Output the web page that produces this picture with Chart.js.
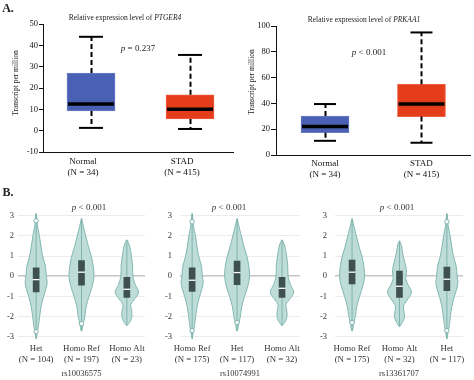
<!DOCTYPE html>
<html><head><meta charset="utf-8">
<script src="https://cdn.jsdelivr.net/npm/chart.js@4.4.0/dist/chart.umd.min.js"></script>
<style>
html,body{margin:0;padding:0;background:#fff;}
#wrap{position:relative;width:474px;height:380px;overflow:hidden;font-family:"Liberation Serif","Times New Roman",serif;color:#222;}
canvas{position:absolute;}
.t{position:absolute;white-space:nowrap;transform:translate(-50%,-50%);line-height:1;}
.r{transform:translate(-50%,-50%) rotate(-90deg);}
</style></head><body><div id="wrap">
<canvas id="cA1" width="240" height="180" style="left:0;top:0"></canvas>
<canvas id="cA2" width="237" height="180" style="left:237px;top:0"></canvas>
<canvas id="cB1" width="158" height="184" style="left:0;top:196px"></canvas>
<canvas id="cB2" width="154" height="184" style="left:158px;top:196px"></canvas>
<canvas id="cB3" width="162" height="184" style="left:312px;top:196px"></canvas>
<div class="t" style="left:8px;top:8px;font-weight:bold;font-size:12px;">A.</div>
<div class="t" style="left:8px;top:192px;font-weight:bold;font-size:12px;">B.</div>
<div class="t" style="left:125px;top:18px;font-size:7.5px;">Relative expression level of <i>PTGER4</i></div>
<div class="t" style="left:364px;top:20px;font-size:7.5px;">Relative expression level of <i>PRKAA1</i></div>
<div class="t r" style="left:16px;top:83px;font-size:7.5px;">Transcript per million</div>
<div class="t r" style="left:252px;top:82px;font-size:7.5px;">Transcript per million</div>
<div class="t" style="left:138px;top:48px;font-size:9px;"><i>p</i> = 0.237</div>
<div class="t" style="left:369px;top:52px;font-size:9px;"><i>p</i> &lt; 0.001</div>
<div class="t" style="left:89px;top:207px;font-size:9px;color:#333"><i>p</i> &lt; 0.001</div>
<div class="t" style="left:229px;top:207px;font-size:9px;color:#333"><i>p</i> &lt; 0.001</div>
<div class="t" style="left:397px;top:207px;font-size:9px;color:#333"><i>p</i> &lt; 0.001</div>
</div>
<script>
const SERIF = '"Liberation Serif","Times New Roman",serif';

// ---------- Panel A data ----------
const aGroups = [['Normal', '(N = 34)'], ['STAD', '(N = 415)']];
const a1Q1 = [9.2, 5.5];
const a1Q3 = [27, 16.8];
const a1Median = [12.5, 10];
const a1WhiskerLow = [1.3, 0.8];
const a1WhiskerHigh = [44, 35.5];
const a1Ticks = [-10, 0, 10, 20, 30, 40, 50];

const a2Q1 = [17.3, 29.8];
const a2Q3 = [30.2, 54.8];
const a2Median = [22, 39.5];
const a2WhiskerLow = [11, 9.5];
const a2WhiskerHigh = [39.5, 95];
const a2Ticks = [0, 20, 40, 60, 80, 100];

// ---------- Panel B data ----------
// violin shapes: [value, relative density]
const shapeWide = [[3.1,0.02],[2.75,0.07],[2.5,0.11],[2,0.26],[1.5,0.38],[1,0.52],[0.5,0.74],[0,0.82],[-0.3,0.88],[-0.6,0.8],[-1,0.6],[-1.5,0.4],[-2,0.28],[-2.5,0.18],[-2.75,0.1],[-3.1,0.02]];
const shapeRef = [[2.85,0.02],[2.5,0.14],[2,0.34],[1.5,0.54],[1,0.78],[0.5,0.94],[0,1.0],[-0.5,0.86],[-1,0.6],[-1.5,0.38],[-2,0.26],[-2.35,0.14],[-2.5,0.1],[-2.72,0.02]];
const shapeAlt = [[1.8,0.02],[1.5,0.22],[1,0.36],[0.5,0.46],[0,0.48],[-0.4,0.66],[-0.8,0.94],[-1.1,0.66],[-1.4,0.32],[-1.7,0.38],[-2,0.4],[-2.25,0.26],[-2.45,0.02]];
const shapeAlt3 = [[1.75,0.02],[1.5,0.16],[1,0.3],[0.5,0.5],[0.2,0.56],[-0.1,0.5],[-0.4,0.66],[-0.8,0.96],[-1.2,0.6],[-1.5,0.32],[-2,0.4],[-2.3,0.22],[-2.5,0.02]];
const bTicks = [-3, -2, -1, 0, 1, 2, 3];

const b1Groups = [['Het', '(N = 104)'], ['Homo Ref', '(N = 197)'], ['Homo Alt', '(N = 23)']];
const b1Shapes = [shapeWide, shapeRef, shapeAlt];
const b1Q1 = [-0.78, -0.45, -1.05];
const b1Q3 = [0.42, 0.77, -0.05];
const b1Median = [-0.17, 0.2, -0.65];
const b1Outliers = [[2.75, -2.75], [-2.35], []];

const b2Groups = [['Homo Ref', '(N = 175)'], ['Het', '(N = 117)'], ['Homo Alt', '(N = 32)']];
const b2Shapes = [shapeWide, shapeRef, shapeAlt];
const b2Q1 = [-0.75, -0.42, -1.05];
const b2Q3 = [0.42, 0.75, -0.05];
const b2Median = [-0.2, 0.18, -0.6];
const b2Outliers = [[2.7, -2.7], [-2.3], []];

const b3Groups = [['Homo Ref', '(N = 175)'], ['Homo Alt', '(N = 32)'], ['Het', '(N = 117)']];
const b3Shapes = [shapeRef, shapeAlt3, shapeWide];
const b3Q1 = [-0.38, -1.05, -0.72];
const b3Q3 = [0.8, 0.25, 0.45];
const b3Median = [0.2, -0.5, -0.15];
const b3Outliers = [[-2.3], [], [2.7, -2.7]];

function seg(ctx, x1, y1, x2, y2) { ctx.beginPath(); ctx.moveTo(x1, y1); ctx.lineTo(x2, y2); ctx.stroke(); }

function boxChart(id, o) {
  const pos = o.groups.map((_, i) => i + 1);
  const plugin = {
    id: 'boxExtras' + id,
    afterDatasetsDraw(chart) {
      const { ctx, scales: { x, y } } = chart;
      ctx.save();
      pos.forEach((p, i) => {
        const cx = Math.round(x.getPixelForValue(p)) + 0.5;
        const bx1 = x.getPixelForValue(p - o.barUnits / 2), bx2 = x.getPixelForValue(p + o.barUnits / 2);
        ctx.strokeStyle = '#000';
        ctx.lineWidth = 2;
        ctx.setLineDash([5, 3]);
        seg(ctx, cx, y.getPixelForValue(o.q3[i]), cx, y.getPixelForValue(o.hi[i]));
        seg(ctx, cx, y.getPixelForValue(o.q1[i]), cx, y.getPixelForValue(o.lo[i]));
        ctx.setLineDash([]);
        const capL = x.getPixelForValue(p - o.capUnits / 2), capR = x.getPixelForValue(p + o.capUnits / 2);
        seg(ctx, capL, y.getPixelForValue(o.hi[i]), capR, y.getPixelForValue(o.hi[i]));
        seg(ctx, capL, y.getPixelForValue(o.lo[i]), capR, y.getPixelForValue(o.lo[i]));
        ctx.lineWidth = 3.5;
        seg(ctx, bx1 + 1, y.getPixelForValue(o.med[i]), bx2 - 1, y.getPixelForValue(o.med[i]));
      });
      ctx.restore();
    }
  };
  new Chart(document.getElementById(id), {
    type: 'bar',
    data: { datasets: [{
      data: pos.map((p, i) => ({ x: p, y: [o.q1[i], o.q3[i]] })),
      backgroundColor: ['#4a60b5', '#e53d1c'],
      borderColor: ['#6a7cc6', '#ec5e40'],
      borderWidth: 1, borderSkipped: false,
      barPercentage: 1, categoryPercentage: 1,
      barThickness: o.barPx
    }] },
    options: {
      responsive: false, animation: false, events: [],
      layout: { padding: { top: o.padTop, right: o.padRight, bottom: 0, left: 0 } },
      plugins: { legend: { display: false }, tooltip: { enabled: false } },
      scales: {
        x: {
          type: 'linear', min: o.xMin, max: o.xMax, offset: false,
          afterBuildTicks: s => { s.ticks = pos.map(v => ({ value: v })); },
          afterFit: s => { s.height = o.xH; },
          grid: { display: false, drawTicks: false, offset: false },
          border: { display: true, color: '#111', width: 1 },
          ticks: { padding: o.xPad, labelOffset: o.labelOffset, autoSkip: false, maxRotation: 0,
            font: { family: SERIF, size: 9, lineHeight: 1.2 }, color: '#111',
            callback: (v, i) => o.groups[i] }
        },
        y: {
          min: o.yMin, max: o.yMax,
          afterBuildTicks: s => { s.ticks = o.yTicks.map(v => ({ value: v })); },
          afterFit: s => { s.width = o.yW; },
          grid: { display: true, drawOnChartArea: false, drawTicks: true, tickLength: o.tickLen, color: '#111' },
          border: { display: true, color: '#111', width: 1 },
          ticks: { padding: 1, font: { family: SERIF, size: 8.5 }, color: '#111' }
        }
      }
    },
    plugins: [plugin]
  });
}

boxChart('cA1', { groups: aGroups, q1: a1Q1, q3: a1Q3, med: a1Median, lo: a1WhiskerLow, hi: a1WhiskerHigh,
  yTicks: a1Ticks, yMin: -10, yMax: 50, xMin: 0.515, xMax: 2.434, barPx: 48, barUnits: 48 / 99, capUnits: 24 / 99,
  padTop: 24, padRight: 7, xH: 28, yW: 43, xPad: 4.6, labelOffset: -8, tickLen: 4 });
boxChart('cA2', { groups: aGroups, q1: a2Q1, q3: a2Q3, med: a2Median, lo: a2WhiskerLow, hi: a2WhiskerHigh,
  yTicks: a2Ticks, yMin: 0, yMax: 100, xMin: 0.492, xMax: 2.503, barPx: 48, barUnits: 48 / 96.5, capUnits: 22 / 96.5,
  padTop: 26, padRight: 4, xH: 25, yW: 39, xPad: 3.6, labelOffset: 0, tickLen: 5 });

function smoothThrough(ctx, pts, move) {
  if (move) ctx.moveTo(pts[0][0], pts[0][1]); else ctx.lineTo(pts[0][0], pts[0][1]);
  for (let i = 0; i < pts.length - 1; i++) {
    const p0 = pts[i - 1] || pts[i], p1 = pts[i], p2 = pts[i + 1], p3 = pts[i + 2] || p2;
    ctx.bezierCurveTo(p1[0] + (p2[0] - p0[0]) / 6, p1[1] + (p2[1] - p0[1]) / 6,
                      p2[0] - (p3[0] - p1[0]) / 6, p2[1] - (p3[1] - p1[1]) / 6, p2[0], p2[1]);
  }
}

function violinChart(id, o) {
  const pos = o.groups.map((_, i) => i);
  const outPts = [];
  o.outliers.forEach((arr, i) => arr.forEach(v => outPts.push({ x: i, y: v })));
  const plugin = {
    id: 'violin' + id,
    beforeDatasetsDraw(chart) {
      const { ctx, scales: { x, y } } = chart;
      ctx.save();
      pos.forEach((p, i) => {
        const shape = o.shapes[i];
        const cx = x.getPixelForValue(p);
        const right = shape.map(([v, d]) => [x.getPixelForValue(p + d * o.maxW), y.getPixelForValue(v)]);
        const left = shape.map(([v, d]) => [x.getPixelForValue(p - d * o.maxW), y.getPixelForValue(v)]).reverse();
        ctx.beginPath();
        smoothThrough(ctx, right, true);
        smoothThrough(ctx, left, false);
        ctx.closePath();
        ctx.fillStyle = '#bedcd8';
        ctx.fill();
        ctx.strokeStyle = '#82b7b1';
        ctx.lineWidth = 1;
        ctx.stroke();
        ctx.strokeStyle = '#7fb3ad';
        seg(ctx, cx, y.getPixelForValue(shape[0][0]), cx, y.getPixelForValue(shape[shape.length - 1][0]));
      });
      ctx.restore();
    },
    afterDatasetsDraw(chart) {
      const { ctx, scales: { x, y } } = chart;
      ctx.save();
      ctx.strokeStyle = '#ffffff';
      ctx.lineWidth = 1.3;
      pos.forEach((p, i) => {
        const cx = x.getPixelForValue(p);
        const my = y.getPixelForValue(o.med[i]);
        seg(ctx, cx - 3.5, my, cx + 3.5, my);
      });
      ctx.restore();
    }
  };
  new Chart(document.getElementById(id), {
    type: 'bar',
    data: { datasets: [
      { type: 'bar', data: pos.map((p, i) => ({ x: p, y: [o.q1[i], o.q3[i]] })),
        backgroundColor: '#3e5052', borderWidth: 0, barThickness: 6 },
      { type: 'scatter', data: outPts, pointRadius: 2.2, pointBackgroundColor: '#ffffff',
        pointBorderColor: '#7fb3ad', pointBorderWidth: 1, showLine: false }
    ] },
    options: {
      responsive: false, animation: false, events: [],
      layout: { padding: { top: o.padTop, right: o.padRight, bottom: 0, left: 0 } },
      plugins: { legend: { display: false }, tooltip: { enabled: false } },
      scales: {
        x: {
          type: 'linear', min: o.xMin, max: o.xMax, offset: false,
          afterBuildTicks: s => { s.ticks = pos.map(v => ({ value: v })); },
          afterFit: s => { s.height = o.xH; },
          grid: { display: false, drawTicks: false, offset: false },
          border: { display: false },
          title: { display: true, text: o.snp, color: '#333', font: { family: SERIF, size: 8.5, lineHeight: 1.2 }, padding: { top: 0, bottom: 1 } },
          ticks: { padding: 4.3, autoSkip: false, maxRotation: 0,
            font: { family: SERIF, size: 8.8, lineHeight: 1.15 }, color: '#333',
            callback: (v, i) => o.groups[i] }
        },
        y: {
          min: -3.15, max: 3.15,
          afterBuildTicks: s => { s.ticks = bTicks.map(v => ({ value: v })); },
          afterFit: s => { s.width = o.yW; },
          grid: { display: true, drawTicks: false,
            color: c => (c.tick && c.tick.value === 0) ? '#c6c6c6' : '#ececec',
            lineWidth: c => (c.tick && c.tick.value === 0) ? 1.5 : 1 },
          border: { display: false },
          ticks: { padding: o.yPad, font: { family: SERIF, size: 8.5 }, color: '#333' }
        }
      }
    },
    plugins: [plugin]
  });
}

violinChart('cB1', { groups: b1Groups, shapes: b1Shapes, q1: b1Q1, q3: b1Q3, med: b1Median, outliers: b1Outliers, snp: 'rs10036575',
  xMin: -0.4, xMax: 2.4, maxW: 0.275, yW: 18, yPad: 4, padTop: 16.7, padRight: 13, xH: 40.3 });
violinChart('cB2', { groups: b2Groups, shapes: b2Shapes, q1: b2Q1, q3: b2Q3, med: b2Median, outliers: b2Outliers, snp: 'rs10074991',
  xMin: -0.27, xMax: 2.4, maxW: 0.278, yW: 22, yPad: 8, padTop: 16.7, padRight: 12, xH: 40.3 });
violinChart('cB3', { groups: b3Groups, shapes: b3Shapes, q1: b3Q1, q3: b3Q3, med: b3Median, outliers: b3Outliers, snp: 'rs13361707',
  xMin: -0.36, xMax: 2.34, maxW: 0.264, yW: 23, yPad: 8, padTop: 16.7, padRight: 11, xH: 40.3 });
</script>
</body></html>
